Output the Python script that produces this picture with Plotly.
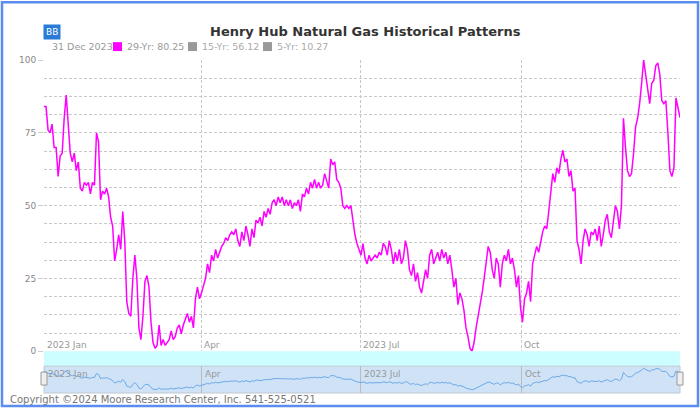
import plotly.graph_objects as go
import pandas as pd

values = [84,84,76,75,78,70,70,60,67,68,80,88,78,68,65,68,62,65,56,55,58,57,58,54,58,57,75,72,52,55,54,56,53,46,43,31,35,40,35,48,38,17,13,12,25,33,25,8,4,12,24,26,22,10,3,1,2,9,2,4,2,3,4,7,4,5,8,9,6,9,11,13,10,12,8,18,22,18,20,23,25,30,27,33,31,35,32,34,36,37,39,38,40,41,40,42,38,36,41,38,43,40,36,42,39,45,44,46,43,48,46,49,47,51,52,50,53,51,53,50,52,50,52,49,51,50,52,48,54,53,56,54,58,56,59,56,58,56,57,61,58,56,66,64,65,59,58,56,50,49,50,49,50,44,40,37,35,33,37,32,30,33,31,32,33,32,34,33,37,36,33,38,35,30,34,31,35,30,32,38,35,28,26,30,24,27,22,20,24,28,25,33,35,30,32,34,31,35,32,34,30,33,28,22,25,16,20,18,14,8,5,1,0,3,8,12,15,20,25,31,36,34,28,25,32,30,22,30,33,31,35,30,32,28,22,26,15,10,18,20,24,17,30,33,36,34,38,41,43,42,48,55,61,58,63,61,66,69,65,66,60,62,55,56,38,35,30,38,42,40,36,41,40,42,38,43,36,40,45,47,41,39,45,50,48,42,50,80,70,62,60,61,68,77,80,85,92,100,95,90,85,92,93,98,99,95,86,85,86,75,62,60,63,87,83,80.25]
dates = pd.date_range("2023-01-01", "2023-12-31", periods=len(values))
tick_dates = ["2023-01-01", "2023-04-01", "2023-07-01", "2023-10-01"]
tick_labels = ["2023 Jan", "Apr", "2023 Jul", "Oct"]
y_ticks = [0, 25, 50, 75, 100]

W, H = 700, 410
L, R, T, B = 44, 20, 60, 15
pw, ph = W - L - R, H - T - B
def px(x): return (x - L) / pw
def py(y): return (H - B - y) / ph

fig = go.Figure()
fig.add_trace(go.Scatter(x=dates, y=values, mode="lines", line=dict(color="#ff00ff", width=1.5),
                         xaxis="x", yaxis="y", hoverinfo="skip"))
fig.add_trace(go.Scatter(x=dates, y=values, mode="lines", line=dict(color="#6aa9e8", width=1),
                         xaxis="x2", yaxis="y2", hoverinfo="skip"))

grid = "#c8c8c8"
gd = "3px,2px"
fig.update_layout(
    width=W, height=H, margin=dict(l=L, r=R, t=T, b=B),
    paper_bgcolor="white", plot_bgcolor="white", showlegend=False,
    font=dict(family="DejaVu Sans", size=9, color="#999"),
    xaxis=dict(domain=[0, 1], range=["2023-01-01", "2023-12-31"], tickvals=tick_dates, ticktext=[""]*4,
               showgrid=True, gridcolor=grid, griddash=gd, zeroline=False, showline=False,
               ticks=""),
    yaxis=dict(domain=[py(353), 1], range=[0, 100], tickvals=y_ticks, showgrid=True,
               gridcolor=grid, griddash=gd, zeroline=False, ticks="outside", ticklen=5,
               tickcolor="#ccc", tickfont=dict(size=9, color="#888"),
               minor=dict(dtick=6.25, showgrid=True, gridcolor=grid, griddash=gd)),
    xaxis2=dict(domain=[0, 1], anchor="y2", range=["2023-01-01", "2023-12-31"], tickvals=tick_dates,
                ticktext=[""]*4, showgrid=True, gridcolor="#bbb", zeroline=False, ticks=""),
    yaxis2=dict(domain=[0, py(368)], range=[-15, 110], showticklabels=False, showgrid=False,
                zeroline=False, ticks=""),
)

shapes = [
    dict(type="rect", xref="paper", yref="paper", x0=0, x1=1, y0=py(368), y1=py(353),
         fillcolor="#ccfdff", line=dict(width=0), layer="below"),
    dict(type="rect", xref="paper", yref="paper", x0=0, x1=1, y0=0, y1=py(368),
         fillcolor="#d0e2f5", line=dict(color="#c0c8d0", width=1), layer="below"),
    dict(type="rect", xref="paper", yref="paper", x0=px(2), x1=px(698), y0=py(408), y1=py(2),
         line=dict(color="#5b8def", width=2.5)),
]
for hx in (44, 680):
    shapes.append(dict(type="rect", xref="paper", yref="paper", x0=px(hx-3), x1=px(hx+3),
                       y0=py(387), y1=py(374), fillcolor="#eee", line=dict(color="#999", width=1)))
legend_boxes = [(113, "#ff00ff"), (188, "#999"), (263, "#999")]
for bx, c in legend_boxes:
    shapes.append(dict(type="rect", xref="paper", yref="paper", x0=px(bx), x1=px(bx+9),
                       y0=py(51), y1=py(42), fillcolor=c, line=dict(width=0)))
fig.update_layout(shapes=shapes)

ann = [
    dict(text="<b>Henry Hub Natural Gas Historical Patterns</b>", x=px(365), y=py(22), xref="paper",
         yref="paper", showarrow=False, font=dict(size=13, color="#333")),
    dict(text="BB", x=px(43), y=py(23.5), xref="paper", yref="paper", showarrow=False,
         font=dict(size=9, color="white"), bgcolor="#2a7ad8", borderpad=2),
]
legend_texts = [(50, "31 Dec 2023", "#999"), (125, "29-Yr: 80.25", "#999"),
                (200, "15-Yr: 56.12", "#aaa"), (275, "5-Yr: 10.27", "#aaa")]
for lx, t, c in legend_texts:
    ann.append(dict(text=t, x=px(lx), y=py(46.5), xref="paper", yref="paper", xanchor="left",
                    yanchor="middle", showarrow=False, font=dict(size=9.5, color=c)))
ann.append(dict(text="Copyright ©2024 Moore Research Center, Inc. 541-525-0521", x=px(8), y=py(402),
                xref="paper", yref="paper", xanchor="left", yanchor="middle", showarrow=False,
                font=dict(size=10, color="#777")))
for d, t in zip(tick_dates, tick_labels):
    ann.append(dict(text=t, x=d, xref="x", y=py(354), yref="paper", xanchor="left", yanchor="bottom",
                    showarrow=False, font=dict(size=9, color="#999"), xshift=1))
    ann.append(dict(text=t, x=d, xref="x", y=py(369), yref="paper", xanchor="left", yanchor="top",
                    showarrow=False, font=dict(size=9, color="#999"), xshift=2))
fig.update_layout(annotations=ann)
fig.write_html("out.html", config={"displayModeBar": False})

with open("out.html", encoding="utf-8") as f:
    html = f.read()
html = html.replace("<head>", "<head><style>html,body{margin:0;padding:0;overflow:hidden}</style>", 1)
with open("out.html", "w", encoding="utf-8") as f:
    f.write(html)
